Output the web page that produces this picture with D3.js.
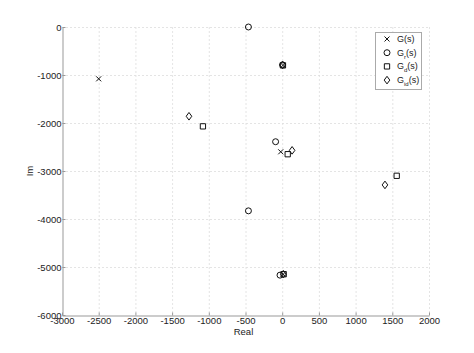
<!DOCTYPE html>
<html>
<head>
<meta charset="utf-8">
<script src="https://cdn.jsdelivr.net/npm/d3@7"></script>
<style>
  body { margin: 0; background: #fff; }
  text { font-family: "Liberation Sans", Arial, sans-serif; fill: #222; }
</style>
</head>
<body>
<div id="chart"></div>
<script>
// series data (real, imag)
var gRe  = [-2500, -20, 10, 15];
var gIm  = [-1080, -2600, -800, -5150];
var grRe = [-460, 5, -90, -460, -30];
var grIm = [0, -790, -2390, -3830, -5170];
var gdRe = [-1080, 10, 75, 1560, 20];
var gdIm = [-2070, -800, -2650, -3100, -5150];
var giRe = [-1270, 5, 135, 1400, 15];
var giIm = [-1860, -790, -2570, -3290, -5150];

var xTicks = [-3000, -2500, -2000, -1500, -1000, -500, 0, 500, 1000, 1500, 2000];
var yTicks = [0, -1000, -2000, -3000, -4000, -5000, -6000];

var W = 474, H = 353;
var plotLeft = 62, plotRight = 429, plotTop = 27, plotBottom = 315;

var svg = d3.select("#chart").append("svg")
    .attr("width", W).attr("height", H);

var x = d3.scaleLinear().domain([-3000, 2000]).range([plotLeft, plotRight]);
var y = d3.scaleLinear().domain([-6000, 0]).range([plotBottom, plotTop]);

// grid
var grid = svg.append("g");
grid.selectAll(".gx").data(xTicks.slice(1)).enter().append("line")
    .attr("x1", function(d) { return x(d) + 0.5; }).attr("x2", function(d) { return x(d) + 0.5; })
    .attr("y1", plotTop).attr("y2", plotBottom)
    .attr("stroke", "#ddd").attr("stroke-width", 0.8)
    .style("stroke-dasharray", "2,2");
grid.selectAll(".gy").data(yTicks.slice(0, -1)).enter().append("line")
    .attr("x1", plotLeft).attr("x2", plotRight)
    .attr("y1", function(d) { return y(d) + 0.5; }).attr("y2", function(d) { return y(d) + 0.5; })
    .attr("stroke", "#ddd").attr("stroke-width", 0.8)
    .style("stroke-dasharray", "2,2");

// axes
var fmt = function(d) { return String(d); };
var xAxis = svg.append("g").attr("transform", "translate(0," + (plotBottom + 0.5) + ")")
    .call(d3.axisBottom(x).tickValues(xTicks).tickFormat(fmt).tickSizeInner(-3).tickSizeOuter(0).tickPadding(4));
var yAxis = svg.append("g").attr("transform", "translate(" + (plotLeft + 0.5) + ",0)")
    .call(d3.axisLeft(y).tickValues(yTicks).tickFormat(fmt).tickSizeInner(-3).tickSizeOuter(0).tickPadding(1));
[xAxis, yAxis].forEach(function(a) {
  a.select(".domain").attr("stroke", "#999");
  a.selectAll(".tick line").attr("stroke", "#999");
  a.selectAll("text").style("font-size", "9.5px").attr("fill", "#222")
      .style("font-family", "'Liberation Sans', Arial, sans-serif");
});
xAxis.selectAll("text").attr("dy", "0.5em");

svg.append("text").attr("x", (plotLeft + plotRight) / 2 - 2).attr("y", 335)
    .attr("text-anchor", "middle").style("font-size", "9.5px").text("Real");
svg.append("text").attr("transform", "translate(33," + ((plotTop + plotBottom) / 2) + ") rotate(-90)")
    .attr("text-anchor", "middle").style("font-size", "9.5px").text("Im");

// markers
var sym = {
  x: d3.symbol().type(d3.symbolTimes).size(18),
  o: d3.symbol().type(d3.symbolCircle).size(28),
  s: d3.symbol().type(d3.symbolSquare).size(28)
};
function diamond() {
  return "M0,-3.8L2.8,0L0,3.8L-2.8,0Z";
}
function plot(re, im, kind) {
  var pts = re.map(function(r, i) { return [r, im[i]]; });
  svg.append("g").selectAll("path").data(pts).enter().append("path")
      .attr("transform", function(d) { return "translate(" + x(d[0]) + "," + y(d[1]) + ")"; })
      .attr("d", kind === "d" ? diamond() : sym[kind]())
      .attr("fill", "none").attr("stroke", "#111").attr("stroke-width", 1);
}
plot(gRe, gIm, "x");
plot(grRe, grIm, "o");
plot(gdRe, gdIm, "s");
plot(giRe, giIm, "d");

// legend
var leg = svg.append("g");
leg.append("rect").attr("x", 375.5).attr("y", 32.5).attr("width", 46).attr("height", 57)
    .attr("fill", "#fff").attr("stroke", "#aaa");
var legItems = [
  { k: "x", sub: null },
  { k: "o", sub: "r" },
  { k: "s", sub: "d" },
  { k: "d", sub: "id" }
];
legItems.forEach(function(it, i) {
  var cy = 39 + i * 13.7;
  leg.append("path").attr("transform", "translate(387," + cy + ")")
      .attr("d", it.k === "d" ? diamond() : sym[it.k]())
      .attr("fill", "none").attr("stroke", "#111").attr("stroke-width", 1);
  var t = leg.append("text").attr("x", 397).attr("y", cy + 3).style("font-size", "9px");
  t.append("tspan").text("G");
  if (it.sub) {
    t.append("tspan").attr("dy", 3).style("font-size", "6px").text(it.sub);
    t.append("tspan").attr("dy", -3).text("(s)");
  } else {
    t.append("tspan").text("(s)");
  }
});
</script>
</body>
</html>
